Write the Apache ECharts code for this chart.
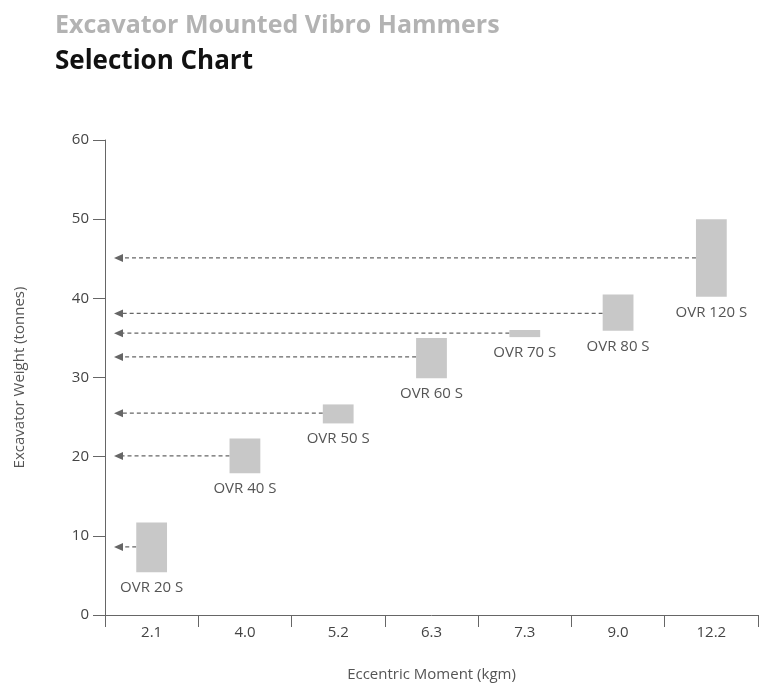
<!DOCTYPE html>
<html><head><meta charset="utf-8">
<script src="https://cdn.jsdelivr.net/npm/echarts@6/dist/echarts.min.js"></script>
<style>html,body{margin:0;background:#fff}#c{width:768px;height:696px}</style>
</head><body><div id="c"></div>
<script>
const categories = ['2.1', '4.0', '5.2', '6.3', '7.3', '9.0', '12.2'];
const models = ['OVR 20 S', 'OVR 40 S', 'OVR 50 S', 'OVR 60 S', 'OVR 70 S', 'OVR 80 S', 'OVR 120 S'];
const rangeLow = [5.4, 17.9, 24.2, 29.9, 35.1, 35.9, 40.2];
const rangeHigh = [11.7, 22.3, 26.6, 35.0, 36.0, 40.5, 50.0];
const arrowAt = [8.6, 20.1, 25.5, 32.6, 35.6, 38.1, 45.1];
const yTicks = [0, 10, 20, 30, 40, 50, 60];

const gridLeft = 105, barFrac = 0.33;
const chart = echarts.init(document.getElementById('c'));
chart.setOption({
  animation: false,
  textStyle: { fontFamily: 'Open Sans' },
  title: [
    { text: 'Excavator Mounted Vibro Hammers', left: 50, top: 8,
      textStyle: { color: '#b3b3b3', fontSize: 25, fontWeight: 'bold', fontFamily: 'Open Sans' } },
    { text: 'Selection Chart', left: 50, top: 44,
      textStyle: { color: '#111', fontSize: 26, fontWeight: 'bold', fontFamily: 'Open Sans' } }
  ],
  grid: { left: gridLeft, right: 10, top: 140, bottom: 81 },
  xAxis: {
    type: 'category', data: categories,
    name: 'Eccentric Moment (kgm)', nameLocation: 'middle', nameGap: 52,
    nameTextStyle: { color: '#555', fontSize: 15 },
    axisLine: { lineStyle: { color: '#666' } },
    axisTick: { show: true, length: 12, lineStyle: { color: '#666' } },
    axisLabel: { color: '#444', fontSize: 15, margin: 10 }
  },
  yAxis: {
    type: 'value', min: 0, max: 60, interval: 10,
    name: 'Excavator Weight (tonnes)', nameLocation: 'middle', nameGap: 78, nameRotate: 90,
    nameTextStyle: { color: '#555', fontSize: 15 },
    splitLine: { show: false },
    axisLine: { show: true, lineStyle: { color: '#666' } },
    axisTick: { show: true, length: 12, lineStyle: { color: '#666' } },
    axisLabel: { color: '#444', fontSize: 15, margin: 16,
      formatter: v => yTicks.includes(v) ? String(v) : '' }
  },
  series: [
    { type: 'bar', stack: 'r', data: rangeLow, barWidth: (barFrac * 100) + '%',
      itemStyle: { color: 'transparent' } },
    { type: 'bar', stack: 'r', barWidth: (barFrac * 100) + '%',
      data: rangeHigh.map((h, i) => +(h - rangeLow[i]).toFixed(2)),
      itemStyle: { color: '#c8c8c8' },
      label: { show: true, position: 'bottom', distance: 8, color: '#555', fontSize: 15,
        formatter: p => models[p.dataIndex] } },
    { type: 'custom', data: arrowAt.map((v, i) => [i, v]),
      renderItem: (params, api) => {
        const p = api.coord([api.value(0), api.value(1)]);
        const bw = api.size([1, 0])[0] * barFrac;
        const x1 = p[0] - bw / 2, x0 = gridLeft + 9, y = p[1];
        return { type: 'group', children: [
          { type: 'line', shape: { x1: x1, y1: y, x2: x0 + 6, y2: y },
            style: { stroke: '#666', lineWidth: 1.3, lineDash: [4, 3] } },
          { type: 'polygon', shape: { points: [[x0, y], [x0 + 9, y - 4], [x0 + 9, y + 4]] },
            style: { fill: '#666' } }
        ] };
      } }
  ]
});
</script></body></html>
